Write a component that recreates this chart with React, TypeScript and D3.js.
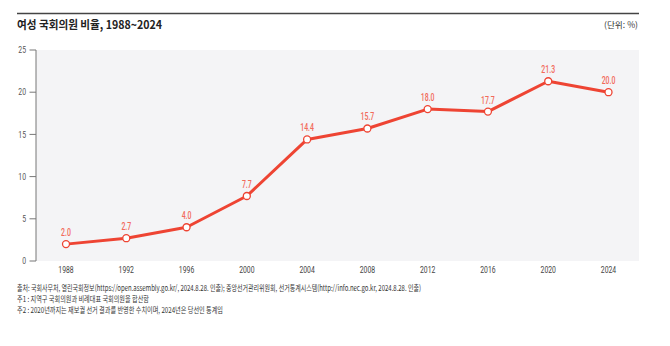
import React from "react";
import * as d3 from "d3";

const years = ["1988", "1992", "1996", "2000", "2004", "2008", "2012", "2016", "2020", "2024"];
const values = [2.0, 2.7, 4.0, 7.7, 14.4, 15.7, 18.0, 17.7, 21.3, 20.0];
const yTicks = [0, 5, 10, 15, 20, 25];
const title = "여성 국회의원 비율, 1988~2024";
const unit = "(단위: %)";
const notes = [
  "출처: 국회사무처, 열린국회정보(https://open.assembly.go.kr/, 2024.8.28. 인출); 중앙선거관리위원회, 선거통계시스템(http://info.nec.go.kr, 2024.8.28. 인출)",
  "주1 : 지역구 국회의원과 비례대표 국회의원을 합산함",
  "주2 : 2020년까지는 재보궐 선거 결과를 반영한 수치이며, 2024년은 당선인 통계임",
];
const noteWidths = [404, 132, 206];

const SX = 0.72;

export default function App() {
  const W = 670, H = 346;
  const plotL = 36, plotR = 639, plotT = 50, plotB = 261;
  const x = d3.scalePoint<string>().domain(years).range([66, 608.5]);
  const y = d3.scaleLinear().domain([0, 25]).range([plotB, plotT]);
  const line = d3.line<number>().x((_, i) => x(years[i])!).y((d) => y(d));
  const kr = "'Noto Sans CJK KR', 'Noto Sans', sans-serif";
  const cond = "Roboto, 'Noto Sans', sans-serif";
  return (
    <svg width={W} height={H} style={{ position: "absolute", left: 0, top: 0, background: "#fff" }}>
      <line x1={17} x2={639} y1={13.5} y2={13.5} stroke="#444" strokeWidth={1.5} />
      <text x={17} y={28.5} fontFamily={kr} fontWeight={700} fontSize={11.5} fill="#222" textLength={145} lengthAdjust="spacingAndGlyphs">{title}</text>
      <text x={604} y={28} fontFamily={kr} fontSize={8.5} fill="#333" textLength={34} lengthAdjust="spacingAndGlyphs">{unit}</text>
      <rect x={plotL} y={plotT} width={plotR - plotL} height={plotB - plotT} fill="#f4f4f6" />
      <line x1={plotL} x2={plotL} y1={plotT} y2={plotB} stroke="#777" strokeWidth={1} />
      {yTicks.map((t) => (
        <g key={t}>
          <line x1={29.5} x2={plotL} y1={y(t)} y2={y(t)} stroke="#777" strokeWidth={1} />
          <g transform={`translate(26,${y(t) + 3.2}) scale(${SX},1)`}>
            <text x={0} y={0} textAnchor="end" fontFamily={cond} fontSize={9.5} fill="#555">{t}</text>
          </g>
        </g>
      ))}
      {years.map((yr) => (
        <g key={yr} transform={`translate(${x(yr)},273) scale(${SX},1)`}>
          <text x={0} y={0} textAnchor="middle" fontFamily={cond} fontSize={9.5} fill="#444">{yr}</text>
        </g>
      ))}
      <path d={line(values) || ""} fill="none" stroke="#ee4433" strokeWidth={3} strokeLinejoin="round" />
      {values.map((v, i) => (
        <g key={i}>
          <circle cx={x(years[i])} cy={y(v)} r={3.5} fill="#fff" stroke="#ee4433" strokeWidth={1.3} />
          <g transform={`translate(${x(years[i])},${y(v) - 8}) scale(0.66,1)`}>
            <text x={0} y={0} textAnchor="middle" fontFamily={cond} fontWeight={500} fontSize={10.5} fill="#f26a5a">{v.toFixed(1)}</text>
          </g>
        </g>
      ))}
      {notes.map((n, i) => (
        <text key={i} x={17} y={291 + i * 11.2} fontFamily={kr} fontSize={8.2} fill="#333" textLength={noteWidths[i]} lengthAdjust="spacingAndGlyphs">{n}</text>
      ))}
    </svg>
  );
}
